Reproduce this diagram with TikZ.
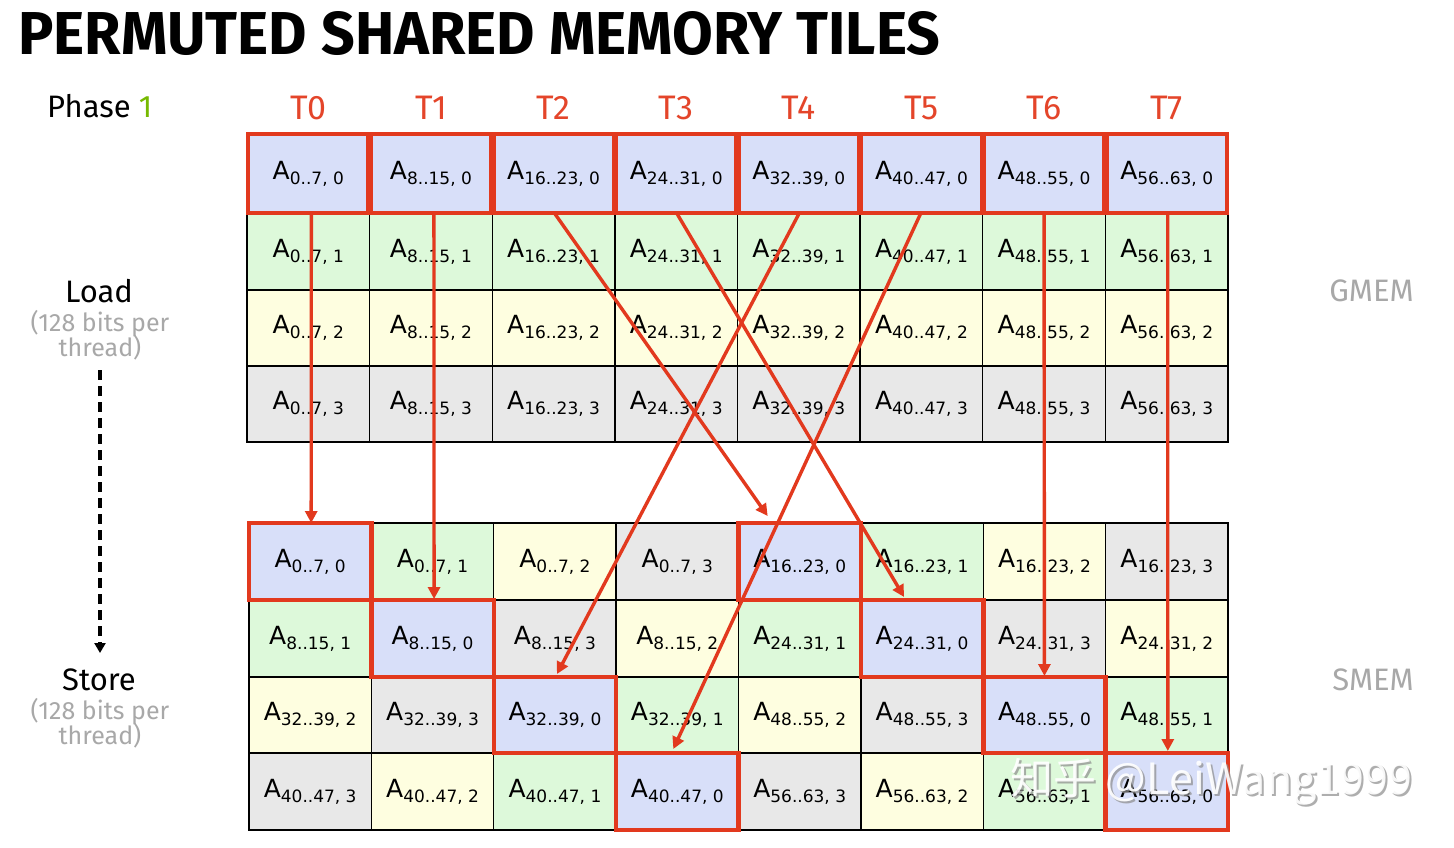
\documentclass[tikz,border=0pt]{standalone}
\usepackage{fontspec}
\usepackage{graphicx}
\setmainfont{Fira Sans}
\newfontfamily\cellfont{DejaVu Sans}
\newfontfamily\cjkfont{Noto Sans CJK SC}
\usetikzlibrary{arrows.meta,calc}
\definecolor{ck0}{HTML}{D8DFF9}
\definecolor{ck1}{HTML}{DDF9DA}
\definecolor{ck2}{HTML}{FEFEE0}
\definecolor{ck3}{HTML}{E8E8E8}
\definecolor{nvred}{HTML}{E2391E}
\definecolor{tred}{HTML}{E4452A}
\definecolor{nvgreen}{HTML}{76B900}
\definecolor{lbl}{HTML}{A8A8A8}
\newcommand{\Alab}[2]{{\cellfont\fontsize{25}{25}\selectfont A\raisebox{-5pt}{\fontsize{17}{17}\selectfont #1, #2}}}
\tikzset{
  cellbox/.style={draw=black, line width=1.4pt, inner sep=0pt, outer sep=0pt},
  gridborder/.style={draw=black, line width=2.5pt},
  redframe/.style={draw=nvred, line width=4.5pt},
  nvarrow/.style={draw=nvred, line width=3.4pt, -{Triangle[length=12pt,width=12pt]}},
  tlab/.style={text=tred, font=\fontsize{34}{34}\selectfont, anchor=base, inner sep=0pt},
  sidelab/.style={font=\fontsize{31}{31}\selectfont, anchor=base, inner sep=0pt},
  sublab/.style={text=lbl, font=\fontsize{25}{25}\selectfont, anchor=base, inner sep=0pt},
  memlab/.style={text=lbl, font=\fontsize{31}{31}\selectfont, anchor=base east, inner sep=0pt},
}
\begin{document}
\begin{tikzpicture}[x=1pt,y=-1pt]
\useasboundingbox (0,0) rectangle (1454,848);
\fill[white] (0,0) rectangle (1454,848);

% title
\node[anchor=base west, inner sep=0pt] (title) at (18,55) {\resizebox{922pt}{43pt}{\bfseries PERMUTED SHARED MEMORY TILES}};

% phase
\node[sidelab, anchor=base west] (phase) at (47,118) {Phase \textcolor{nvgreen}{1}};

% thread labels
\foreach \c in {0,...,7} {
  \pgfmathsetmacro{\cx}{247+122.625*(\c+0.5)}
  \node[tlab] (T\c) at (\cx,120) {T\c};
}

% top grid (GMEM)
\foreach \r/\cy/\h in {0/173.5/79,1/251.5/77,2/328/76,3/404/76} {
  \foreach \c in {0,...,7} {
    \pgfmathsetmacro{\cx}{247+122.625*(\c+0.5)}
    \pgfmathtruncatemacro{\lo}{8*\c}
    \pgfmathtruncatemacro{\hi}{8*\c+7}
    \node[cellbox, fill=ck\r, minimum width=122.625pt, minimum height=\h pt] (t-\r-\c) at (\cx,\cy) {\Alab{\lo..\hi}{\r}};
  }
}
\draw[gridborder] (t-0-0.north west) rectangle (t-3-7.south east);

% bottom grid (SMEM)
\foreach \r/\cy/\h/\row in {
  0/561.5/77/{0..7/0,0..7/1,0..7/2,0..7/3,16..23/0,16..23/1,16..23/2,16..23/3},
  1/638.5/77/{8..15/1,8..15/0,8..15/3,8..15/2,24..31/1,24..31/0,24..31/3,24..31/2},
  2/715/76/{32..39/2,32..39/3,32..39/0,32..39/1,48..55/2,48..55/3,48..55/0,48..55/1},
  3/791.5/77/{40..47/3,40..47/2,40..47/1,40..47/0,56..63/3,56..63/2,56..63/1,56..63/0}} {
  \foreach \rng/\k [count=\ci from 0] in \row {
    \pgfmathsetmacro{\cx}{249+122.375*(\ci+0.5)}
    \node[cellbox, fill=ck\k, minimum width=122.375pt, minimum height=\h pt] (b-\r-\ci) at (\cx,\cy) {\Alab{\rng}{\k}};
  }
}
\draw[gridborder] (b-0-0.north west) rectangle (b-3-7.south east);

% red frames, top row
\foreach \c in {0,...,7} {
  \draw[redframe] ($(t-0-\c.north west)+(1,0)$) rectangle ($(t-0-\c.south east)+(-1,0)$);
}
% red frames, bottom (blue cells)
\foreach \r/\c in {0/0,1/1,2/2,3/3,0/4,1/5,2/6,3/7} {
  \draw[redframe] (b-\r-\c.north west) rectangle (b-\r-\c.south east);
}

% arrows
\draw[nvarrow] ($(t-0-0.south)+(3,1)$) -- ($(b-0-0.north)+(1,0)$);
\draw[nvarrow] ($(t-0-1.south)+(3,1)$) -- ($(b-1-1.north)+(1.5,-1)$);
\draw[nvarrow] ($(t-0-2.south)+(1.5,1)$) -- ($(b-0-4.north)+(-32,-7)$);
\draw[nvarrow] ($(t-0-3.south)+(1,1)$) -- ($(b-1-5.north)+(-18,-3)$);
\draw[nvarrow] ($(t-0-4.south)+(0,1)$) -- ($(b-2-2.north)+(2,-3)$);
\draw[nvarrow] ($(t-0-5.south)+(-1,1)$) -- ($(b-3-3.north)+(-4,-4)$);
\draw[nvarrow] ($(t-0-6.south)+(0,1)$) -- ($(b-2-6.north)+(0,-1)$);
\draw[nvarrow] ($(t-0-7.south)+(1,1)$) -- ($(b-3-7.north)+(1,-2)$);

% left labels
\node[sidelab] (load) at (99,302) {Load};
\node[sublab] (load1) at (100,331) {(128 bits per};
\node[sublab] (load2) at (100,356) {thread)};
\node[sidelab] (store) at (99,690) {Store};
\node[sublab] (store1) at (100,719) {(128 bits per};
\node[sublab] (store2) at (100,744) {thread)};
\coordinate (dtop) at (100,370);
\coordinate (dbot) at (100,653);
\draw[line width=3.2pt, dash pattern=on 10pt off 6pt, -{Triangle[length=10pt,width=11pt]}] (dtop) -- (dbot);

% memory labels
\node[memlab] (gmem) at (1414,301) {GMEM};
\node[memlab] (smem) at (1414,690) {SMEM};

% watermark
\node[anchor=base west, inner sep=0pt, text=black!45, opacity=0.7] (wms) at (1012,796) {\cjkfont\fontsize{43}{43}\selectfont 知乎 @LeiWang1999};
\node[anchor=base west, inner sep=0pt, text=white, opacity=0.92] (wm) at (1010,794) {\cjkfont\fontsize{43}{43}\selectfont 知乎 @LeiWang1999};
\end{tikzpicture}
\end{document}
